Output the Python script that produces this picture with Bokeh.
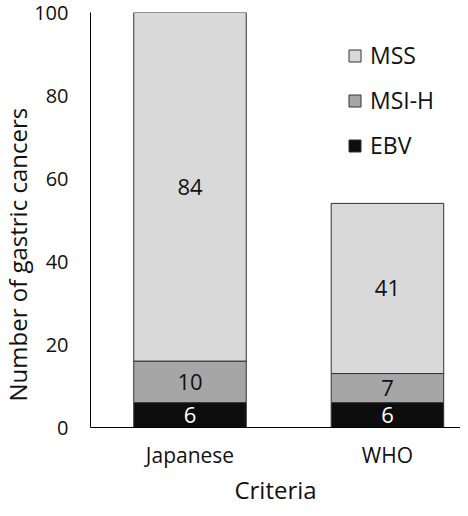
import numpy as np
from bokeh.plotting import figure
from bokeh.models import FixedTicker, Legend, LegendItem, ColumnDataSource, Title
from bokeh.core.properties import value
from bokeh.embed import file_html
from bokeh.resources import INLINE

categories = ["Japanese", "WHO"]
series_names = ["EBV", "MSI-H", "MSS"]
ebv = [6, 6]
msi_h = [10, 7]
mss = [84, 41]
colors = ["#0d0d0d", "#a6a6a6", "#d9d9d9"]
label_colors = ["#ffffff", "#111111", "#111111"]
y_ticks = [0, 20, 40, 60, 80, 100]
x_title = "Criteria"
y_title = "Number of gastric cancers"

FONT = "Open Sans"

p = figure(width=460, height=508, output_backend="svg", toolbar_location=None,
           x_range=(-0.004, 1.87), y_range=(0, 100),
           min_border_left=90, min_border_right=0, min_border_top=12, min_border_bottom=76)
p.outline_line_color = None
p.xgrid.visible = False
p.ygrid.visible = False

xs = np.arange(len(categories)) + 0.5
series = [ebv, msi_h, mss]
bottom = np.zeros(len(categories))
renderers = []
for name, vals, col, lcol in zip(series_names, series, colors, label_colors):
    vals = np.array(vals, dtype=float)
    top = bottom + vals
    src = ColumnDataSource(dict(x=xs, bottom=bottom, top=top,
                                mid=(bottom + top) / 2,
                                lab=[str(int(v)) for v in vals]))
    r = p.vbar(x="x", bottom="bottom", top="top", width=0.57, source=src,
               fill_color=col, line_color="#333333", line_width=1)
    p.text(x="x", y="mid", text="lab", source=src, text_align="center",
           text_baseline="middle", text_font=value(FONT), text_font_size="22px",
           text_color=lcol)
    renderers.append((name, r))
    bottom = top

items = [LegendItem(label=n, renderers=[r]) for n, r in reversed(renderers)]
legend = Legend(items=items, location=(257, 266), orientation="vertical",
                border_line_color=None, background_fill_alpha=0,
                padding=0, margin=0, spacing=13, glyph_width=15, glyph_height=15,
                label_standoff=8, label_text_font=FONT, label_text_font_size="23px",
                label_text_color="#111111")
p.add_layout(legend)

p.xaxis.ticker = FixedTicker(ticks=list(xs))
p.xaxis.major_label_overrides = {float(x): c for x, c in zip(xs, categories)}
p.yaxis.ticker = FixedTicker(ticks=y_ticks)

for ax in (p.xaxis[0], p.yaxis[0]):
    ax.major_tick_line_color = None
    ax.minor_tick_line_color = None
    ax.major_tick_out = 0
    ax.major_tick_in = 0
    ax.axis_line_color = "#000000"
    ax.axis_line_width = 1
    ax.major_label_text_font = FONT
    ax.major_label_text_color = "#111111"
    ax.major_label_text_line_height = 1.0
    ax.axis_label_text_font = FONT
    ax.axis_label_text_font_size = "24px"
    ax.axis_label_text_font_style = "normal"
    ax.axis_label_text_color = "#111111"
    ax.axis_label_text_line_height = 1.0

p.xaxis.major_label_text_font_size = "21px"
p.yaxis.major_label_text_font_size = "20px"
p.xaxis.axis_label = x_title
p.xaxis.major_label_standoff = 13
p.yaxis.major_label_standoff = 22
p.xaxis.axis_label_standoff = 1

# y-axis title, shifted towards the bottom like the reference
p.add_layout(Title(text=y_title, align="left", offset=26, standoff=-4,
                   text_font=FONT, text_font_size="24px", text_font_style="normal",
                   text_color="#111111"), "left")

open("out.html", "w").write(file_html(p, INLINE))
